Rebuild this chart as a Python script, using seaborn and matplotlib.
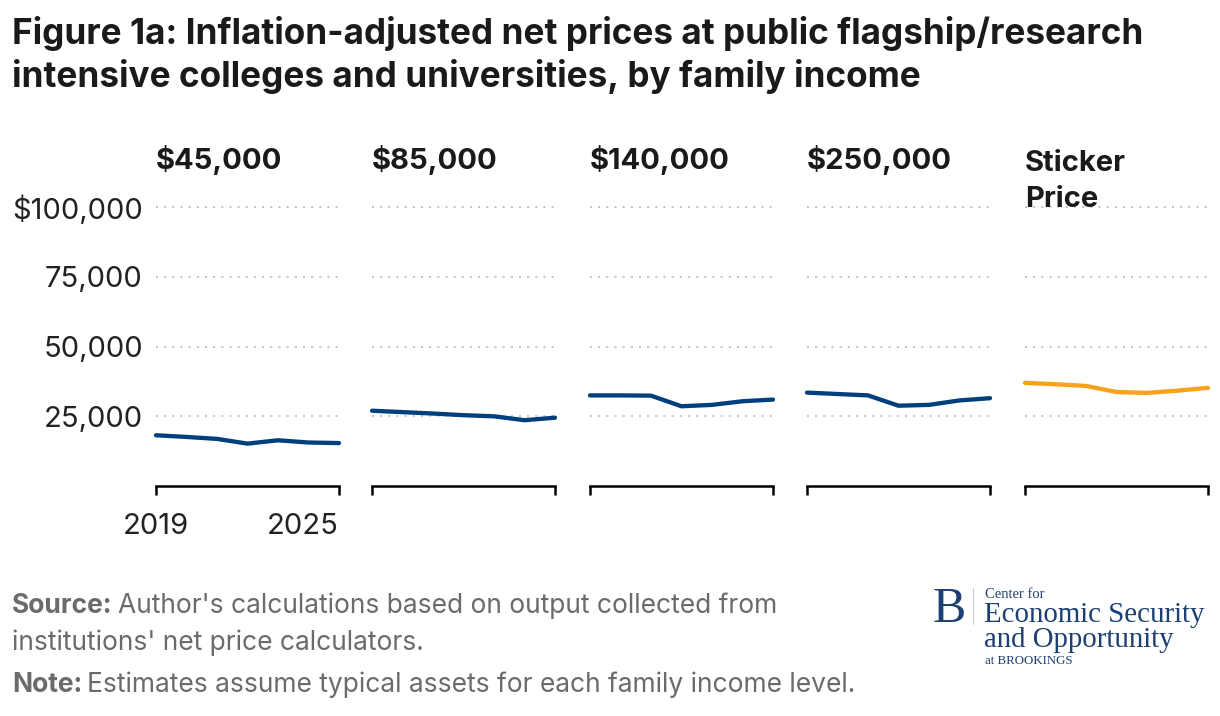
import matplotlib
matplotlib.use("Agg")
from matplotlib import pyplot as plt
import seaborn as sns
import pandas as pd

years = [2019, 2020, 2021, 2022, 2023, 2024, 2025]
panel_titles = ["$45,000", "$85,000", "$140,000", "$250,000", "Sticker\nPrice"]
income_45k = [18200, 17600, 16900, 15200, 16400, 15600, 15400]
income_85k = [27000, 26500, 26000, 25400, 25000, 23600, 24500]
income_140k = [32500, 32500, 32400, 28600, 29100, 30400, 31000]
income_250k = [33500, 33000, 32500, 28800, 29100, 30700, 31500]
sticker_price = [37000, 36500, 35900, 33700, 33400, 34200, 35200]
y_ticks = [25000, 50000, 75000, 100000]
y_tick_labels = ["25,000", "50,000", "75,000", "$100,000"]

series = [income_45k, income_85k, income_140k, income_250k, sticker_price]
colors = ["#003f7d", "#003f7d", "#003f7d", "#003f7d", "#f9a11b"]

sns.set_style("white")
plt.rcParams['font.family'] = ['Inter', 'DejaVu Sans']

W, H = 1220, 716
fig = plt.figure(figsize=(W / 100, H / 100), dpi=100)

lefts = [156, 372, 590, 807, 1025]
ax_w = 183
y_top = 106000
ax_bottom_px = 486
ax_h = y_top / 358.7

for i, (vals, title, col) in enumerate(zip(series, panel_titles, colors)):
    ax = fig.add_axes([lefts[i] / W, 1 - ax_bottom_px / H, ax_w / W, ax_h / H])
    df = pd.DataFrame({"year": years, "price": vals})
    for yv in y_ticks:
        ax.axhline(yv, color="#c4c4c4", linewidth=1.4, linestyle=(0, (1, 3.2)), zorder=1)
    sns.lineplot(data=df, x="year", y="price", ax=ax, color=col, linewidth=3.1,
                 clip_on=False, zorder=3)
    ax.set_xlim(2019, 2025)
    ax.set_ylim(0, y_top)
    for s in ["top", "right", "left"]:
        ax.spines[s].set_visible(False)
    ax.spines["bottom"].set_color("black")
    ax.spines["bottom"].set_linewidth(1.8)
    ax.set_xticks([2019, 2025])
    ax.tick_params(axis="x", bottom=True, direction="out", length=6.5, width=1.8,
                   color="black", labelsize=21, labelcolor="#222222", pad=13)
    ax.set_yticks(y_ticks)
    ax.tick_params(axis="y", left=False, length=0, labelsize=21, labelcolor="#222222", pad=9.5)
    ax.set_xlabel("")
    ax.set_ylabel("")
    if i == 0:
        ax.set_yticklabels(y_tick_labels)
        ax.set_xticklabels(["2019", "2025"])
        labs = ax.get_xticklabels()
        labs[0].set_ha("center")
        labs[1].set_ha("right")
    else:
        ax.set_yticklabels([])
        ax.set_xticklabels([])
    ax.grid(False)
    fig.text(lefts[i] / W, 1 - (169 if "\n" not in title else 207) / H, title,
             fontsize=21, fontweight="bold", color="#1a1a1a", ha="left",
             va="baseline", linespacing=1.42)

fig.text(12 / W, 1 - 87 / H,
         "Figure 1a: Inflation-adjusted net prices at public flagship/research\n"
         "intensive colleges and universities, by family income",
         fontsize=25.3, fontweight="bold", color="#1a1a1a", ha="left", va="baseline",
         linespacing=1.27)

gray = "#6b6b6b"
renderer = fig.canvas.get_renderer()


def footer_line(y_px, bold, rest):
    x0 = 12 / W
    if bold:
        t = fig.text(x0, 1 - y_px / H, bold, fontsize=19, fontweight="bold", color=gray,
                     ha="left", va="baseline")
        bb = t.get_window_extent(renderer=renderer)
        x0 = (bb.x1 + 5) / W
    fig.text(x0, 1 - y_px / H, rest, fontsize=19, color=gray, ha="left", va="baseline")


footer_line(613, "Source:", "Author's calculations based on output collected from")
footer_line(650, None, "institutions' net price calculators.")
footer_line(692, "Note:", "Estimates assume typical assets for each family income level.")

# logo as text
navy = "#1d3f72"
serif = ['Liberation Serif', 'DejaVu Serif']
fig.text(933 / W, 1 - 622 / H, "B", fontsize=36, color=navy, family=serif,
         ha="left", va="baseline")
fig.add_artist(plt.Line2D([973 / W, 973 / W], [1 - 588 / H, 1 - 624 / H],
                          color="#c8cdd8", linewidth=0.8))
fig.text(985 / W, 1 - 598 / H, "Center for", fontsize=10.5, color=navy, family=serif,
         ha="left", va="baseline")
fig.text(984 / W, 1 - 622 / H, "Economic Security", fontsize=20.8, color=navy, family=serif,
         ha="left", va="baseline")
fig.text(984 / W, 1 - 647 / H, "and Opportunity", fontsize=20.8, color=navy, family=serif,
         ha="left", va="baseline")
fig.text(985 / W, 1 - 664 / H, "at BROOKINGS", fontsize=9.3, color=navy, family=serif,
         ha="left", va="baseline")

fig.savefig("out.png", dpi=100)
